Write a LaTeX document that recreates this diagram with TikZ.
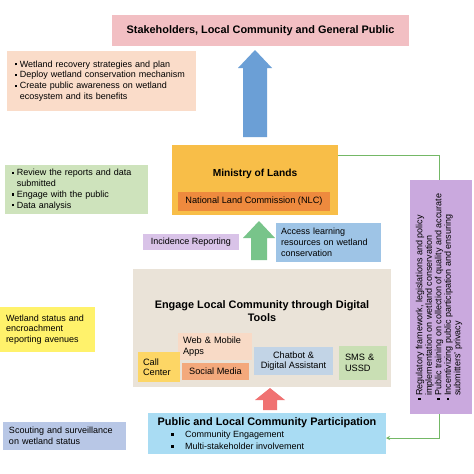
\documentclass[tikz,border=0pt]{standalone}
\usepackage{fontspec}
\setmainfont{Liberation Sans}
\usetikzlibrary{calc,arrows.meta}
\definecolor{cTop}{HTML}{F2BFC3}
\definecolor{cPeach}{HTML}{FADCC9}
\definecolor{cBlueArr}{HTML}{6B9FD6}
\definecolor{cMin}{HTML}{F8BE48}
\definecolor{cNLC}{HTML}{EE8A3E}
\definecolor{cGreenBox}{HTML}{CEE3BC}
\definecolor{cInc}{HTML}{D9C3E8}
\definecolor{cAccess}{HTML}{9EC4E6}
\definecolor{cGreenArr}{HTML}{78C48A}
\definecolor{cBeige}{HTML}{EAE3D8}
\definecolor{cWeb}{HTML}{F8DAC6}
\definecolor{cCall}{HTML}{FDD665}
\definecolor{cSocial}{HTML}{F3A97C}
\definecolor{cChat}{HTML}{C2D4E6}
\definecolor{cSMS}{HTML}{C9DFB4}
\definecolor{cRedArr}{HTML}{F07272}
\definecolor{cPublic}{HTML}{A9DCF3}
\definecolor{cYellow}{HTML}{FFF26B}
\definecolor{cScout}{HTML}{B8C7E6}
\definecolor{cPurple}{HTML}{CAA9DE}
\definecolor{cLine}{HTML}{74B866}
\newcommand{\bsq}{\raisebox{1.7pt}{\rule{2.3pt}{2.3pt}}}
\newcommand{\bl}[1]{\makebox[4.8pt][l]{\bsq}#1}
\newcommand{\ind}{\hspace*{4.8pt}}
\begin{document}
\begin{tikzpicture}[x=1pt,y=-1pt,
  font=\fontsize{9}{10.8}\selectfont,
  box/.style={inner sep=0pt, outer sep=0pt, anchor=north west},
  small/.style={font=\fontsize{9.2}{10.5}\selectfont},
  gl/.style={draw=cLine, line width=1pt},
]
\useasboundingbox (0,0) rectangle (474,474);
\fill[white] (0,0) rectangle (474,474);

% top
\node[box,fill=cTop,minimum width=297,minimum height=31] (top) at (112,15)
  {\bfseries\fontsize{10.9}{13}\selectfont Stakeholders, Local Community and General Public};

% peach
\node[box,fill=cPeach,minimum width=189,minimum height=60,align=left,inner xsep=8pt,text width=173pt] (peach) at (7,51)
  {\bl{Wetland recovery strategies and plan}\\
   \bl{Deploy wetland conservation mechanism}\\
   \bl{Create public awareness on wetland}\\
   \ind ecosystem and its benefits};

% blue arrow
\fill[cBlueArr] (243,137) -- (243,68) -- (238,68) -- (255,50) -- (272,68) -- (267,68) -- (267,137) -- cycle;

% ministry
\node[box,fill=cMin,minimum width=166,minimum height=70] (min) at (172,145) {};
\node[font=\bfseries\fontsize{10.2}{12}\selectfont] (mint) at (255,174) {Ministry of Lands};
\node[box,fill=cNLC,minimum width=152,minimum height=19] (nlc) at (178,192)
  {\fontsize{9.2}{11}\selectfont National Land Commission (NLC)};

% green box
\node[box,fill=cGreenBox,minimum width=143,minimum height=49,align=left,inner xsep=7pt,text width=129pt] (rev) at (5,165)
  {\bl{Review the reports and data}\\
   \ind submitted\\
   \bl{Engage with the public}\\
   \bl{Data analysis}};

% incidence reporting
\node[box,fill=cInc,minimum width=96,minimum height=16] (inc) at (143,234)
  {Incidence Reporting};

% green arrow
\fill[cGreenArr] (251,260) -- (251,238) -- (243,238) -- (259,221) -- (275,238) -- (267,238) -- (267,260) -- cycle;

% access learning
\node[box,fill=cAccess,minimum width=105,minimum height=39,align=left,inner xsep=5pt,text width=95pt] (acc) at (276,223)
  {Access learning\\resources on wetland\\conservation};

% beige
\node[box,fill=cBeige,minimum width=258,minimum height=118] (eng) at (133,269) {};
\node[align=center,font=\bfseries\fontsize{10.9}{12.5}\selectfont] (engt) at (262,311)
  {Engage Local Community through Digital\\Tools};

\node[box,small,fill=cWeb,minimum width=74,minimum height=27,align=left,inner xsep=5pt,text width=64pt] (web) at (178,333)
  {Web \& Mobile\\Apps};
\node[box,small,fill=cCall,minimum width=42,minimum height=30,align=left,inner xsep=5pt,text width=32pt] (call) at (138,352)
  {Call\\Center};
\node[box,small,fill=cSocial,minimum width=67,minimum height=17] (soc) at (182,363)
  {Social Media};
\node[box,small,fill=cChat,minimum width=79,minimum height=28,align=center] (chat) at (254,347)
  {Chatbot \&\\Digital Assistant};
\node[box,small,fill=cSMS,minimum width=48,minimum height=34,align=left,inner xsep=6pt,text width=36pt] (sms) at (339,346)
  {SMS \&\\USSD};

% red arrow
\fill[cRedArr] (263,410) -- (263,400) -- (255,400) -- (270,388) -- (285,400) -- (277,400) -- (277,410) -- cycle;

% public
\node[box,fill=cPublic,minimum width=238,minimum height=41] (pub) at (148,413) {};
\node[font=\bfseries\fontsize{10.9}{13}\selectfont] (pubt) at (267,423) {Public and Local Community Participation};
\node[anchor=west,align=left,inner sep=0pt,font=\fontsize{9}{12}\selectfont] (publ) at (171,440)
  {\makebox[14pt][l]{\bsq}Community Engagement\\\makebox[14pt][l]{\bsq}Multi-stakeholder involvement};

% yellow
\node[box,fill=cYellow,minimum width=95,minimum height=45,align=left,inner xsep=6pt,text width=83pt] (yel) at (0,307)
  {Wetland status and\\encroachment\\reporting avenues};

% scouting
\node[box,fill=cScout,minimum width=123,minimum height=28,align=left,inner xsep=6pt,text width=111pt] (scout) at (3,422)
  {Scouting and surveillance\\on wetland status};

% purple
\node[box,fill=cPurple,minimum width=62,minimum height=234] (pur) at (410,180) {};
\node[rotate=90,align=left,inner sep=0pt,font=\fontsize{9}{9.5}\selectfont] (purt) at (439,297)
  {\bl{Regulatory framework, legislations and policy}\\
   \ind implementation on wetland conservation\\
   \bl{Public training on collection of quality and accurate}\\
   \bl{Incentivizing public participation and ensuring}\\
   \ind submitters' privacy};

% green connector
\coordinate (c1) at ($(min.north east)+(0,10)$);
\draw[gl] (c1) -| ($(pur.north)+(-2,0)$);
\draw[gl,-{Stealth[length=4pt,width=4pt]}] ($(pur.south)+(-2,0)$) |- ($(pub.east)+(0,4.5)$);
\end{tikzpicture}
\end{document}
